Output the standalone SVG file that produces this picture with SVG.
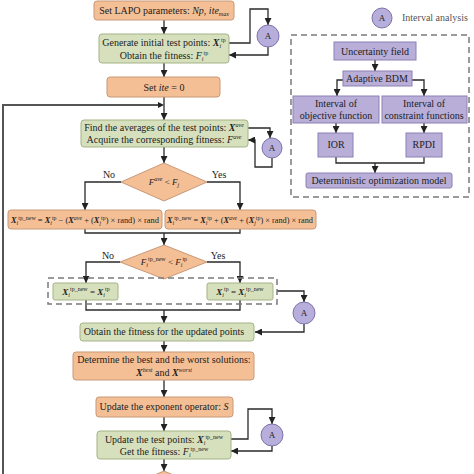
<svg xmlns="http://www.w3.org/2000/svg" width="474" height="474" viewBox="0 0 474 474">
<defs>
<marker id="ah" viewBox="0 0 10 10" refX="10" refY="5" markerWidth="7" markerHeight="7" markerUnits="userSpaceOnUse" orient="auto"><path d="M0,0 L10,5 L0,10 z" fill="#222"/></marker>
<style>
.o{fill:#f5bf95;stroke:#c8997a;stroke-width:1}
.g{fill:#d7e0bd;stroke:#a3b386;stroke-width:1}
.p{fill:#b9aed8;stroke:#8c80b4;stroke-width:1}
.c{fill:#b8aedb;stroke:#7d73aa;stroke-width:1}
.t{font-family:"Liberation Serif","Times New Roman",serif;font-size:10px;fill:#222;text-anchor:middle}
.s{font-size:9px}
.q{font-size:10px}
.f{font-size:8.5px}
.i{font-style:italic}
.bi{font-style:italic;font-weight:bold}
.sc{font-size:6px}
.ln{fill:none;stroke:#2a2a2a;stroke-width:1.3}
.la{fill:none;stroke:#2a2a2a;stroke-width:1.3;marker-end:url(#ah)}
.lp{fill:none;stroke:#555;stroke-width:2}
.dash{fill:none;stroke:#7a7a7a;stroke-width:1.5;stroke-dasharray:6,4}
</style>
</defs>
<rect width="474" height="474" fill="#fff"/>

<g id="connectors">
<path class="la" d="M164,20 V34"/>
<path class="la" d="M164,63 V77"/>
<path class="la" d="M164,97 V120"/>
<path class="lp" d="M3,474 V105 H158"/>
<path d="M164,105 m-6,-3 l6,3 l-6,3 z" fill="#222"/>
<path class="la" d="M229,43 H250 V9 H268 V25"/>
<path class="la" d="M268,47 V55 H229"/>
<path class="la" d="M248,128 H270 V138"/>
<path class="la" d="M272,158 V167 H255 V140 H248"/>
<path class="la" d="M164,147 V163"/>
<path class="la" d="M121,182 H85 V210"/>
<path class="la" d="M207,182 H240 V210"/>
<path class="ln" d="M85,229 V233 H240 V229"/>
<path class="la" d="M164,233 V245"/>
<path class="la" d="M120,262 H86 V283"/>
<path class="la" d="M207,262 H240 V283"/>
<path class="ln" d="M86,300 V310 H240 V300"/>
<path class="la" d="M164,310 V323"/>
<path class="la" d="M277,291 H304 V302"/>
<path class="la" d="M304,324 V332 H255"/>
<path class="la" d="M164,341 V352"/>
<path class="la" d="M164,380 V397"/>
<path class="la" d="M164,417 V431"/>
<path class="la" d="M231,439 H248 V409 H272 V424"/>
<path class="la" d="M272,446 V451 H231"/>
<path class="la" d="M164,459 V471"/>
<path class="la" d="M375,60 V71"/>
<path class="la" d="M343,80 H337 V96"/>
<path class="la" d="M412,80 H424 V96"/>
<path class="la" d="M336,123 V133"/>
<path class="la" d="M424,123 V133"/>
<path class="ln" d="M336,157 V163 H424 V157"/>
<path class="la" d="M375,163 V173"/>
</g>

<g id="n1"><rect class="o" x="94" y="1" width="140" height="19" rx="3"/>
<text class="t" x="164" y="14">Set LAPO parameters: <tspan class="i">Np</tspan>, <tspan class="i">ite</tspan><tspan class="sc i" dy="2">max</tspan></text></g>

<g id="n2"><rect class="g" x="99" y="34" width="130" height="29" rx="3"/>
<text class="t" x="164" y="46">Generate initial test points: <tspan class="bi">X</tspan><tspan class="sc i" dy="2">i</tspan><tspan class="sc" dy="-6">tp</tspan></text>
<text class="t" x="164" y="59">Obtain the fitness: <tspan class="i">F</tspan><tspan class="sc i" dy="2">i</tspan><tspan class="sc" dy="-6">tp</tspan></text></g>
<g id="a1"><circle class="c" cx="268" cy="36" r="11"/><text class="t s" x="268" y="39">A</text></g>

<g id="n3"><rect class="o" x="107" y="77" width="113" height="20" rx="3"/>
<text class="t" x="164" y="91">Set <tspan class="i">ite</tspan> = 0</text></g>

<g id="n4"><rect class="g" x="81" y="120" width="167" height="27" rx="3"/>
<text class="t" x="164" y="131">Find the averages of the test points: <tspan class="bi">X</tspan><tspan class="sc i" dy="-4">ave</tspan></text>
<text class="t" x="164" y="143">Acquire the corresponding fitness: <tspan class="i">F</tspan><tspan class="sc i" dy="-4">ave</tspan></text></g>
<g id="a2"><circle class="c" cx="272" cy="148" r="10"/><text class="t s" x="272" y="151">A</text></g>

<g id="d1"><polygon class="o" points="164,163 207,182 164,201 121,182"/>
<text class="t s" x="164" y="185"><tspan class="i">F</tspan><tspan class="sc i" dy="-4">ave</tspan><tspan dy="4"> &lt; </tspan><tspan class="i">F</tspan><tspan class="sc i" dy="2">j</tspan></text>
<text class="t" x="109" y="178">No</text><text class="t" x="219" y="178">Yes</text></g>

<g id="n5"><rect class="o" x="8" y="210" width="154" height="19" rx="3"/>
<text class="t f" x="85" y="223" textLength="148" lengthAdjust="spacingAndGlyphs"><tspan class="bi">X</tspan><tspan class="sc i" dy="2">i</tspan><tspan class="sc" dy="-5">tp_new</tspan><tspan dy="3"> = </tspan><tspan class="bi">X</tspan><tspan class="sc i" dy="2">i</tspan><tspan class="sc" dy="-5">tp</tspan><tspan dy="3"> − (</tspan><tspan class="bi">X</tspan><tspan class="sc i" dy="-3">ave</tspan><tspan dy="3"> + (</tspan><tspan class="bi">X</tspan><tspan class="sc i" dy="2">j</tspan><tspan class="sc" dy="-5">tp</tspan><tspan dy="3">) × rand) × rand</tspan></text></g>

<g id="n6"><rect class="o" x="165" y="210" width="151" height="19" rx="3"/>
<text class="t f" x="240" y="223" textLength="146" lengthAdjust="spacingAndGlyphs"><tspan class="bi">X</tspan><tspan class="sc i" dy="2">i</tspan><tspan class="sc" dy="-5">tp_new</tspan><tspan dy="3"> = </tspan><tspan class="bi">X</tspan><tspan class="sc i" dy="2">i</tspan><tspan class="sc" dy="-5">tp</tspan><tspan dy="3"> + (</tspan><tspan class="bi">X</tspan><tspan class="sc i" dy="-3">ave</tspan><tspan dy="3"> + (</tspan><tspan class="bi">X</tspan><tspan class="sc i" dy="2">j</tspan><tspan class="sc" dy="-5">tp</tspan><tspan dy="3">) × rand) × rand</tspan></text></g>

<g id="d2"><polygon class="o" points="164,245 207,262 164,279 120,262"/>
<text class="t s" x="164" y="265"><tspan class="i">F</tspan><tspan class="sc i" dy="2">i</tspan><tspan class="sc" dy="-6">tp_new</tspan><tspan dy="4"> &lt; </tspan><tspan class="i">F</tspan><tspan class="sc i" dy="2">i</tspan><tspan class="sc" dy="-6">tp</tspan></text>
<text class="t" x="108" y="259">No</text><text class="t" x="218" y="259">Yes</text></g>

<g id="group1"><rect class="dash" x="48" y="278" width="229" height="26"/></g>
<g id="n7"><rect class="g" x="53" y="283" width="65" height="17" rx="2"/>
<text class="t s" x="86" y="295"><tspan class="bi">X</tspan><tspan class="sc i" dy="2">i</tspan><tspan class="sc" dy="-6">tp_new</tspan><tspan dy="4"> = </tspan><tspan class="bi">X</tspan><tspan class="sc i" dy="2">i</tspan><tspan class="sc" dy="-6">tp</tspan></text></g>
<g id="n8"><rect class="g" x="207" y="283" width="66" height="17" rx="2"/>
<text class="t s" x="240" y="295"><tspan class="bi">X</tspan><tspan class="sc i" dy="2">i</tspan><tspan class="sc" dy="-6">tp</tspan><tspan dy="4"> = </tspan><tspan class="bi">X</tspan><tspan class="sc i" dy="2">i</tspan><tspan class="sc" dy="-6">tp_new</tspan></text></g>
<g id="a3"><circle class="c" cx="304" cy="313" r="11"/><text class="t s" x="304" y="316">A</text></g>

<g id="n9"><rect class="g" x="80" y="323" width="174" height="18" rx="3"/>
<text class="t" x="164" y="335">Obtain the fitness for the updated points</text></g>

<g id="n10"><rect class="o" x="73" y="352" width="181" height="28" rx="3"/>
<text class="t" x="164" y="363">Determine the best and the worst solutions:</text>
<text class="t" x="164" y="376"><tspan class="bi">X</tspan><tspan class="sc i" dy="-4">best</tspan><tspan dy="4"> and </tspan><tspan class="bi">X</tspan><tspan class="sc i" dy="-4">worst</tspan></text></g>

<g id="n11"><rect class="o" x="96" y="397" width="137" height="20" rx="3"/>
<text class="t" x="164" y="410">Update the exponent operator: <tspan class="i">S</tspan></text></g>

<g id="n12"><rect class="g" x="97" y="431" width="134" height="28" rx="3"/>
<text class="t" x="164" y="443">Update the test points: <tspan class="bi">X</tspan><tspan class="sc i" dy="2">i</tspan><tspan class="sc" dy="-6">tp_new</tspan></text>
<text class="t" x="164" y="455">Get the fitness: <tspan class="i">F</tspan><tspan class="sc i" dy="2">i</tspan><tspan class="sc" dy="-6">tp_new</tspan></text></g>
<g id="a4"><circle class="c" cx="272" cy="435" r="11"/><text class="t s" x="272" y="438">A</text></g>

<g id="d3"><polygon class="o" points="164,471 190,482 164,493 138,482"/></g>

<g id="legend"><circle class="c" cx="382" cy="18" r="10"/><text class="t s" x="382" y="21">A</text>
<text class="t q" x="402" y="21" style="text-anchor:start;fill:#555">Interval analysis</text></g>

<g id="panel"><rect class="dash" x="291" y="35" width="178" height="162"/></g>
<g id="p1"><rect class="p" x="334" y="42" width="82" height="18"/><text class="t q" x="375" y="55">Uncertainty field</text></g>
<g id="p2"><rect class="p" x="343" y="71" width="69" height="15"/><text class="t q" x="377" y="82">Adaptive BDM</text></g>
<g id="p3"><rect class="p" x="293" y="96" width="86" height="27"/><text class="t q" x="336" y="107">Interval of</text><text class="t q" x="336" y="119">objective function</text></g>
<g id="p4"><rect class="p" x="382" y="96" width="85" height="27"/><text class="t q" x="424" y="107">Interval of</text><text class="t q" x="424" y="119">constraint functions</text></g>
<g id="p5"><rect class="p" x="318" y="133" width="35" height="24"/><text class="t q" x="336" y="148">IOR</text></g>
<g id="p6"><rect class="p" x="406" y="133" width="36" height="24"/><text class="t q" x="424" y="148">RPDI</text></g>
<g id="p7"><rect class="p" x="306" y="173" width="146" height="15" rx="2"/><text class="t q" x="379" y="184">Deterministic optimization model</text></g>
</svg>
